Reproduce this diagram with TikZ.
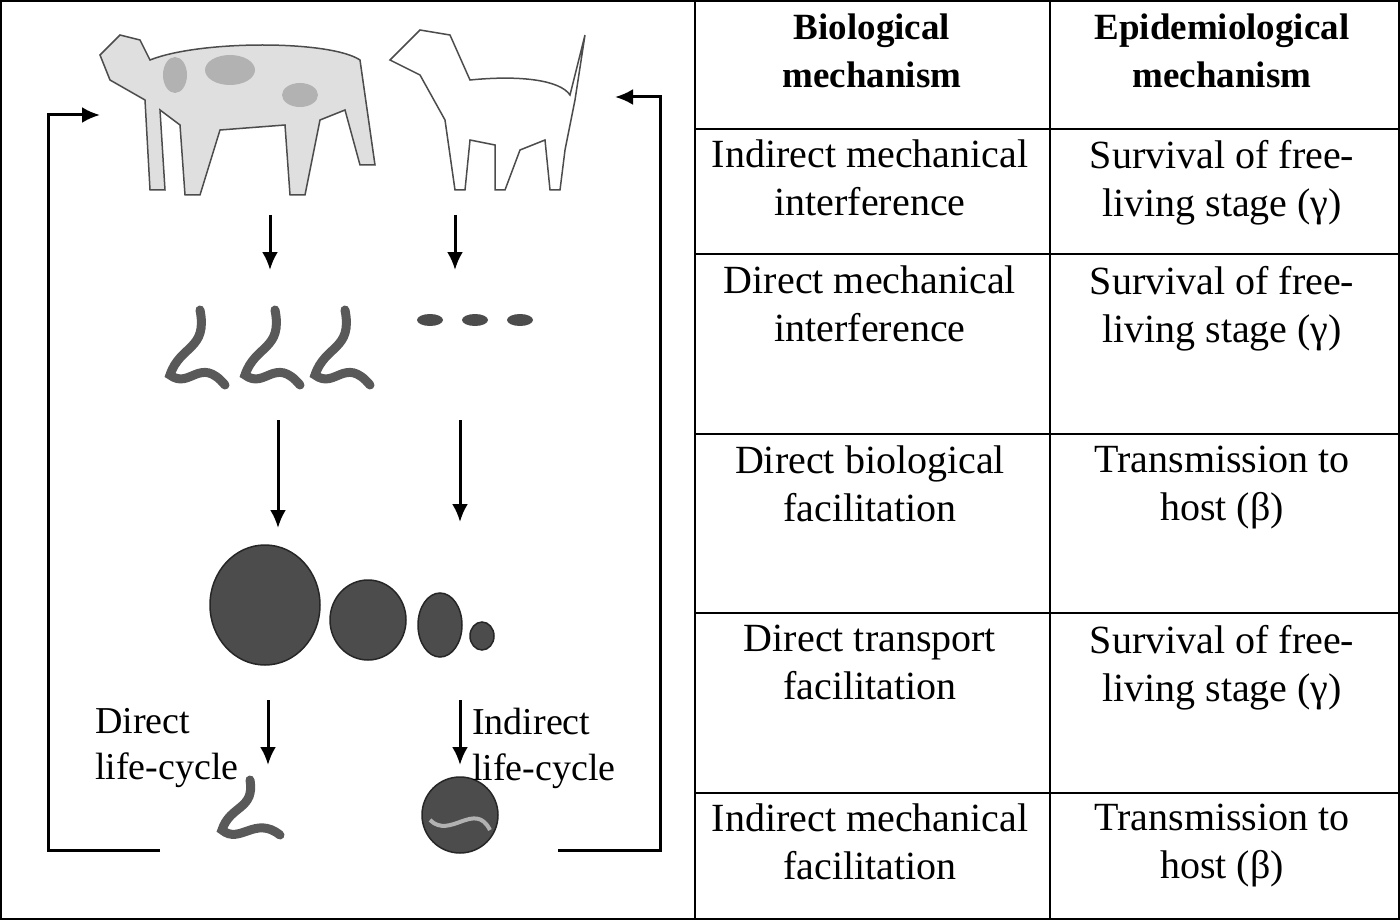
\documentclass[tikz,border=0pt]{standalone}
\usepackage{fontspec}
\setmainfont{Liberation Serif}
\usetikzlibrary{arrows.meta}
\tikzset{
  cell/.style={anchor=north,align=center,inner sep=0pt,font=\fontsize{40}{48}\selectfont},
  head/.style={cell,font=\fontsize{37}{48}\selectfont\bfseries},
  lbl/.style={anchor=north west,align=left,inner sep=0pt,font=\fontsize{38}{46}\selectfont},
  flow/.style={line width=3pt,-{Latex[length=18pt,width=16pt]}},
  worm/.style={line width=9pt,gray!70!black,line cap=round},
  beetle/.style={fill=black!70,draw=black!85,line width=1.5pt}
}
\begin{document}
\begin{tikzpicture}[x=1pt,y=-1pt]
\useasboundingbox (0,0) rectangle (1400,920);
\draw[line width=2pt] (1,1) rectangle (1399,919);
% table
\draw[line width=2pt] (695,0) -- (695,920) (1050,0) -- (1050,920);
\foreach \y in {129,254,434,613,793}
  \draw[line width=2pt] (695,\y) -- (1400,\y);
\node[head] (hbio) at (872,14) {Biological\\mechanism};
\node[head] (hepi) at (1222,14) {Epidemiological\\mechanism};
\node[cell] (b1) at (870,140) {Indirect mechanical\\interference};
\node[cell] (e1) at (1222,140) {Survival of free-\\living stage (γ)};
\node[cell] (b2) at (870,266) {Direct mechanical\\interference};
\node[cell] (e2) at (1222,266) {Survival of free-\\living stage (γ)};
\node[cell] (b3) at (870,446) {Direct biological\\facilitation};
\node[cell] (e3) at (1222,446) {Transmission to\\host (β)};
\node[cell] (b4) at (870,625) {Direct transport\\facilitation};
\node[cell] (e4) at (1222,625) {Survival of free-\\living stage (γ)};
\node[cell] (b5) at (870,804) {Indirect mechanical\\facilitation};
\node[cell] (e5) at (1222,804) {Transmission to\\host (β)};
% cow
\fill[gray!25,draw=black!70,line width=1.5pt] (150,60) .. controls (200,40) and (330,40) .. (360,60)
  -- (375,165) -- (360,165) -- (345,110) -- (320,120) -- (305,195) -- (290,195) -- (285,125)
  -- (220,130) -- (200,195) -- (185,195) -- (180,125) -- (160,110) -- (165,190) -- (150,190)
  -- (145,100) -- (110,80) -- (100,55) -- (120,35) -- (140,40) -- cycle;
\fill[gray!60] (230,70) ellipse (25 and 15) (300,95) ellipse (18 and 12) (175,75) ellipse (12 and 18);
% dog
\draw[black!70,line width=1.5pt,fill=white] (390,60) -- (420,30) -- (450,35) -- (470,80)
  .. controls (520,75) and (560,80) .. (570,95) -- (585,35) -- (575,100) -- (565,150) -- (560,190) -- (550,190)
  -- (545,140) -- (520,150) -- (505,190) -- (495,190) -- (495,145) -- (470,140) -- (465,190) -- (455,190)
  -- (445,120) -- (420,75) -- cycle;
% worms
\foreach \x in {200,275,345}
  \draw[worm] (\x,310) .. controls (\x+8,350) and (\x-20,345) .. (\x-30,375)
    .. controls (\x-10,390) and (\x,355) .. (\x+25,385);
\foreach \x in {430,475,520}
  \fill[gray!60!black] (\x,320) ellipse (13 and 6);
% beetles
\fill[beetle] (265,605) ellipse (55 and 60);
\fill[beetle] (368,620) ellipse (38 and 40);
\fill[beetle] (440,625) ellipse (22 and 32);
\fill[beetle] (482,636) ellipse (12 and 14);
\draw[worm] (250,780) .. controls (255,810) and (230,805) .. (222,830) .. controls (240,845) and (255,815) .. (280,835);
\fill[beetle] (460,815) ellipse (38 and 38);
\draw[line width=4pt,gray!60] (430,820) .. controls (450,840) and (475,800) .. (490,830);
% arrows
\coordinate (c1) at (270,215); \coordinate (c2) at (270,270);
\coordinate (d1) at (455,215); \coordinate (d2) at (455,270);
\coordinate (w1) at (278,420); \coordinate (w2) at (278,528);
\coordinate (g1) at (460,420); \coordinate (g2) at (460,522);
\coordinate (k1) at (268,700); \coordinate (k2) at (268,765);
\coordinate (m1) at (460,700); \coordinate (m2) at (460,765);
\draw[flow] (c1) -- (c2);
\draw[flow] (d1) -- (d2);
\draw[flow] (w1) -- (w2);
\draw[flow] (g1) -- (g2);
\draw[flow] (k1) -- (k2);
\draw[flow] (m1) -- (m2);
\coordinate (l0) at (160,850); \coordinate (l1) at (100,115);
\coordinate (r0) at (558,850); \coordinate (r1) at (615,97);
\draw[flow] (l0) -- (48,850) -- (48,115) -- (l1);
\draw[flow] (r0) -- (660,850) -- (660,97) -- (r1);
\node[lbl] (dlc) at (95,708) {Direct\\life-cycle};
\node[lbl] (ilc) at (472,708) {Indirect\\life-cycle};
\end{tikzpicture}
\end{document}
